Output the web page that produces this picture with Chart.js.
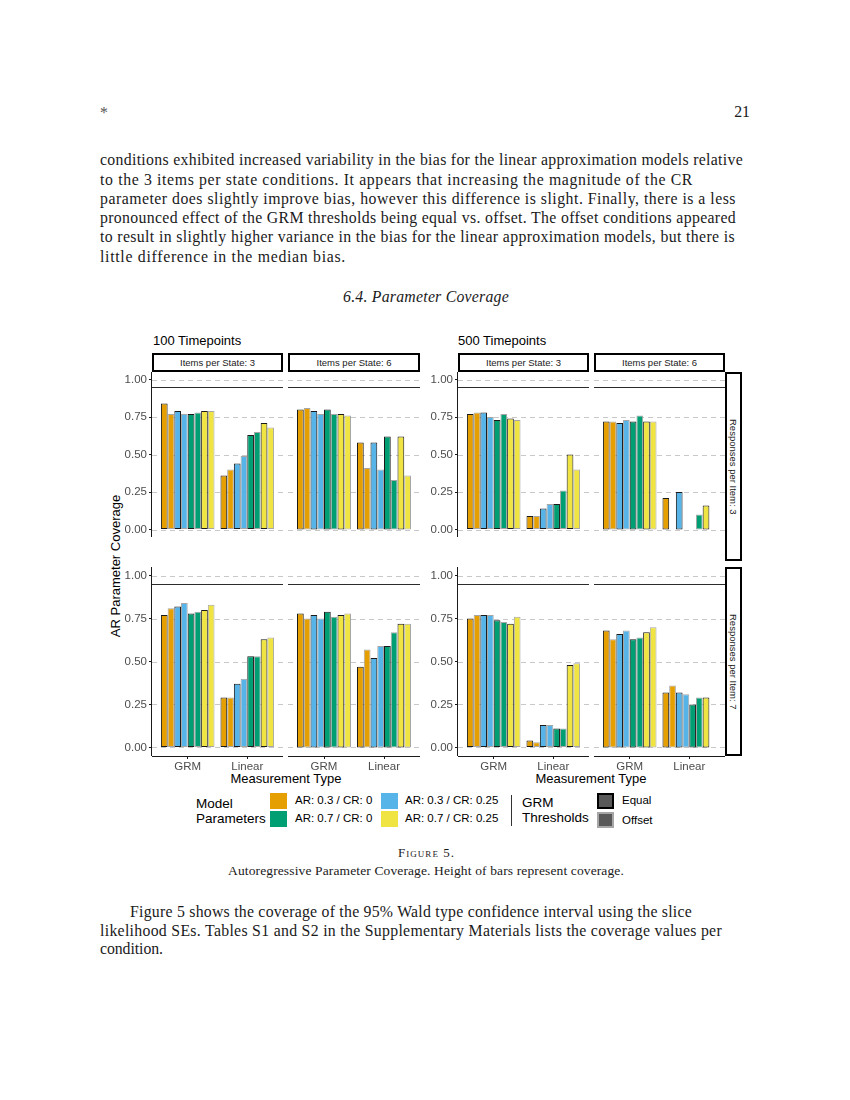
<!DOCTYPE html>
<html>
<head>
<meta charset="utf-8">
<script src="https://cdn.jsdelivr.net/npm/chart.js@4.4.1/dist/chart.umd.min.js"></script>
<style>
  body { margin: 0; background: #fff; }
  #page { position: relative; width: 850px; height: 1100px; overflow: hidden; background: #fff; color: #000; }
  .t { position: absolute; white-space: nowrap; line-height: 20px; }
  .serif { font-family: "Liberation Serif", "DejaVu Serif", serif; font-size: 15.8px; color: #1a1a1a; }
  .sans { font-family: "Liberation Sans", Arial, sans-serif; }
  .c { transform: translate(-50%, -50%); }
  canvas { position: absolute; }
  .strip { position: absolute; box-sizing: border-box; border: 2px solid #000; background: #fff;
           font: 9.5px "Liberation Sans", Arial, sans-serif; color: #1a1a1a;
           display: flex; align-items: center; justify-content: center; }
  .vstrip span { writing-mode: vertical-rl; }
  .key { position: absolute; width: 17px; height: 16px; box-sizing: border-box; }
</style>
</head>
<body>
<div id="page">
  <!-- page header -->
  <div class="t serif" style="left:100px;top:103px;color:#555;">*</div>
  <div class="t serif" style="right:100px;top:102px;">21</div>

  <!-- paragraph before the figure -->
  <div class="t serif fit" data-w="643" style="left:100px;top:150px;">conditions exhibited increased variability in the bias for the linear approximation models relative</div>
  <div class="t serif fit" data-w="593" style="left:100px;top:170px;">to the 3 items per state conditions. It appears that increasing the magnitude of the CR</div>
  <div class="t serif fit" data-w="636" style="left:100px;top:189px;">parameter does slightly improve bias, however this difference is slight. Finally, there is a less</div>
  <div class="t serif fit" data-w="636" style="left:100px;top:208px;">pronounced effect of the GRM thresholds being equal vs. offset. The offset conditions appeared</div>
  <div class="t serif fit" data-w="635" style="left:100px;top:227px;">to result in slightly higher variance in the bias for the linear approximation models, but there is</div>
  <div class="t serif fit" data-w="246" style="left:100px;top:247px;">little difference in the median bias.</div>

  <div class="t serif fit" data-w="166" style="left:343px;top:287px;font-style:italic;">6.4. Parameter Coverage</div>

  <!-- figure titles and strips -->
  <div class="t sans" style="left:153px;top:331px;font-size:13px;">100 Timepoints</div>
  <div class="t sans" style="left:458px;top:331px;font-size:13px;">500 Timepoints</div>

  <div class="strip" style="left:152px;top:353px;width:131px;height:19px;">Items per State: 3</div>
  <div class="strip" style="left:288px;top:353px;width:132px;height:19px;">Items per State: 6</div>
  <div class="strip" style="left:458px;top:353px;width:131px;height:19px;">Items per State: 3</div>
  <div class="strip" style="left:594px;top:353px;width:131px;height:19px;">Items per State: 6</div>

  <div class="strip vstrip" style="left:725px;top:372px;width:17px;height:189px;"><span>Responses per Item: 3</span></div>
  <div class="strip vstrip" style="left:725px;top:567px;width:17px;height:189px;"><span>Responses per Item: 7</span></div>

  <div class="t sans" style="left:116px;top:566px;font-size:13px;transform:translate(-50%,-50%) rotate(-90deg);">AR Parameter Coverage</div>
  <div class="t sans c" style="left:286px;top:779px;font-size:13px;">Measurement Type</div>
  <div class="t sans c" style="left:591px;top:779px;font-size:13px;">Measurement Type</div>

  <!-- legend -->
  <div class="t sans" style="left:196px;top:794px;font-size:13.5px;">Model</div>
  <div class="t sans" style="left:196px;top:809px;font-size:13.5px;">Parameters</div>
  <div class="key" style="left:270px;top:793px;background:#E69F00;"></div>
  <div class="key" style="left:270px;top:811px;background:#009E73;"></div>
  <div class="t sans" style="left:295px;top:790px;font-size:11.5px;">AR: 0.3 / CR: 0</div>
  <div class="t sans" style="left:295px;top:808px;font-size:11.5px;">AR: 0.7 / CR: 0</div>
  <div class="key" style="left:381px;top:793px;background:#56B4E9;"></div>
  <div class="key" style="left:381px;top:811px;background:#F0E442;"></div>
  <div class="t sans" style="left:405px;top:790px;font-size:11.5px;">AR: 0.3 / CR: 0.25</div>
  <div class="t sans" style="left:405px;top:808px;font-size:11.5px;">AR: 0.7 / CR: 0.25</div>
  <div style="position:absolute;left:511px;top:795px;width:1px;height:31px;background:#333;"></div>
  <div class="t sans" style="left:522px;top:793px;font-size:13.5px;">GRM</div>
  <div class="t sans" style="left:522px;top:808px;font-size:13.5px;">Thresholds</div>
  <div class="key" style="left:597px;top:793px;background:#595959;border:2px solid #000;"></div>
  <div class="key" style="left:597px;top:812px;background:#595959;border:2px solid #a6a6a6;"></div>
  <div class="t sans" style="left:622px;top:790px;font-size:11.5px;">Equal</div>
  <div class="t sans" style="left:622px;top:810px;font-size:11.5px;">Offset</div>

  <!-- caption -->
  <div class="t serif fit" data-w="57" style="left:398px;top:843px;font-size:13px;font-variant:small-caps;">Figure 5.</div>
  <div class="t serif fit" data-w="396" style="left:228px;top:861px;font-size:13.5px;">Autoregressive Parameter Coverage. Height of bars represent coverage.</div>

  <!-- paragraph after the figure -->
  <div class="t serif fit" data-w="562" style="left:130px;top:902px;">Figure 5 shows the coverage of the 95% Wald type confidence interval using the slice</div>
  <div class="t serif fit" data-w="622" style="left:100px;top:921px;">likelihood SEs. Tables S1 and S2 in the Supplementary Materials lists the coverage values per</div>
  <div class="t serif fit" data-w="63" style="left:100px;top:939px;">condition.</div>
</div>

<script>
// categories on the x axis of every panel
const categories = ['GRM', 'Linear'];
// model parameter conditions (fill colour) and GRM threshold conditions (outline)
const paramLabels = ['AR: 0.3 / CR: 0', 'AR: 0.3 / CR: 0.25', 'AR: 0.7 / CR: 0', 'AR: 0.7 / CR: 0.25'];
const paramColors = ['#E69F00', '#56B4E9', '#009E73', '#F0E442'];
const thresholds = ['Equal', 'Offset'];
const thresholdBorders = ['#1a1a1a', '#a6a6a6'];
const yTicks = [0, 0.25, 0.5, 0.75, 1];
const nominalCoverage = 0.95;

// coverage values: one row per category (GRM, Linear), 8 bars per row in order
// AR.3/CR0 Equal, Offset, AR.3/CR.25 Equal, Offset, AR.7/CR0 Equal, Offset, AR.7/CR.25 Equal, Offset
const tp100_items3_resp3 = [
  [0.84, 0.77, 0.79, 0.77, 0.77, 0.78, 0.79, 0.79],
  [0.36, 0.40, 0.44, 0.49, 0.63, 0.65, 0.71, 0.68]
];
const tp100_items6_resp3 = [
  [0.80, 0.81, 0.79, 0.77, 0.80, 0.77, 0.77, 0.76],
  [0.58, 0.41, 0.58, 0.40, 0.62, 0.33, 0.62, 0.36]
];
const tp500_items3_resp3 = [
  [0.77, 0.78, 0.78, 0.75, 0.73, 0.77, 0.74, 0.73],
  [0.09, 0.09, 0.14, 0.17, 0.17, 0.26, 0.50, 0.40]
];
const tp500_items6_resp3 = [
  [0.72, 0.72, 0.71, 0.73, 0.72, 0.76, 0.72, 0.72],
  [0.21, null, 0.25, null, null, 0.10, 0.16, null]
];
const tp100_items3_resp7 = [
  [0.77, 0.81, 0.82, 0.84, 0.78, 0.79, 0.80, 0.83],
  [0.29, 0.29, 0.37, 0.40, 0.53, 0.53, 0.63, 0.64]
];
const tp100_items6_resp7 = [
  [0.78, 0.75, 0.77, 0.75, 0.79, 0.76, 0.77, 0.78],
  [0.47, 0.57, 0.52, 0.59, 0.59, 0.67, 0.72, 0.72]
];
const tp500_items3_resp7 = [
  [0.75, 0.77, 0.77, 0.77, 0.74, 0.73, 0.72, 0.76],
  [0.04, 0.03, 0.13, 0.13, 0.11, 0.11, 0.48, 0.49]
];
const tp500_items6_resp7 = [
  [0.68, 0.63, 0.66, 0.68, 0.63, 0.64, 0.67, 0.70],
  [0.32, 0.36, 0.32, 0.31, 0.25, 0.29, 0.29, null]
];

// panel placement on the page
const colLeft = [152, 288, 458, 594];
const colWidth = [131, 132, 131, 131];
const rowTop = [372, 567];
const rowHeight = 189;

const panels = [
  { values: tp100_items3_resp3, col: 0, row: 0 },
  { values: tp100_items6_resp3, col: 1, row: 0 },
  { values: tp500_items3_resp3, col: 2, row: 0 },
  { values: tp500_items6_resp3, col: 3, row: 0 },
  { values: tp100_items3_resp7, col: 0, row: 1 },
  { values: tp100_items6_resp7, col: 1, row: 1 },
  { values: tp500_items3_resp7, col: 2, row: 1 },
  { values: tp500_items6_resp7, col: 3, row: 1 }
];

// stretch text lines to the widths seen on the page
document.querySelectorAll('.fit').forEach(el => {
  const target = parseFloat(el.dataset.w);
  const nat = el.getBoundingClientRect().width;
  el.style.letterSpacing = ((target - nat) / el.textContent.length) + 'px';
});

const sansFont = '"Liberation Sans", Arial, sans-serif';

// dashed grid, nominal line and axis lines
const panelDecor = {
  id: 'panelDecor',
  beforeDatasetsDraw(chart) {
    const { ctx, chartArea: a, scales: { y } } = chart;
    ctx.save();
    ctx.strokeStyle = '#c8c8c8';
    ctx.lineWidth = 1;
    ctx.setLineDash([5, 4]);
    yTicks.forEach(v => {
      const py = Math.round(y.getPixelForValue(v)) + 0.5;
      ctx.beginPath();
      ctx.moveTo(a.left, py);
      ctx.lineTo(a.right, py);
      ctx.stroke();
    });
    ctx.restore();
  },
  afterDatasetsDraw(chart, args, opts) {
    const { ctx, chartArea: a, scales: { y } } = chart;
    ctx.save();
    ctx.strokeStyle = '#2b2b2b';
    ctx.lineWidth = 1;
    const ny = Math.round(y.getPixelForValue(nominalCoverage)) + 0.5;
    ctx.beginPath();
    ctx.moveTo(a.left, ny);
    ctx.lineTo(a.right, ny);
    ctx.stroke();
    ctx.strokeStyle = '#1a1a1a';
    if (opts.leftAxis) {
      ctx.beginPath();
      ctx.moveTo(a.left - 0.5, a.top);
      ctx.lineTo(a.left - 0.5, a.bottom);
      ctx.stroke();
    }
    if (opts.bottomAxis) {
      ctx.beginPath();
      ctx.moveTo(a.left, a.bottom + 0.5);
      ctx.lineTo(a.right, a.bottom + 0.5);
      ctx.stroke();
    }
    ctx.restore();
  }
};

const page = document.getElementById('page');

panels.forEach(p => {
  const leftAxis = p.col % 2 === 0;
  const bottomAxis = p.row === 1;
  const padL = leftAxis ? 40 : 0;
  const padTop = 10;
  const padBottom = bottomAxis ? 24 : 10;
  const w = colWidth[p.col] + padL;
  const h = rowHeight + padTop + padBottom;

  const cv = document.createElement('canvas');
  cv.width = w;
  cv.height = h;
  cv.style.left = (colLeft[p.col] - padL) + 'px';
  cv.style.top = (rowTop[p.row] - padTop) + 'px';
  cv.style.width = w + 'px';
  cv.style.height = h + 'px';
  page.appendChild(cv);

  const datasets = [];
  paramLabels.forEach((label, pi) => {
    thresholds.forEach((th, ti) => {
      const k = pi * 2 + ti;
      datasets.push({
        label: label + ' / ' + th,
        data: categories.map((c, ci) => ({ x: ci, y: p.values[ci][k] })),
        backgroundColor: paramColors[pi],
        borderColor: thresholdBorders[ti],
        borderWidth: 1,
        borderSkipped: false,
        categoryPercentage: 0.9,
        barPercentage: 1
      });
    });
  });

  new Chart(cv, {
    type: 'bar',
    data: { datasets: datasets },
    options: {
      responsive: false,
      animation: false,
      devicePixelRatio: 1,
      events: [],
      layout: { padding: { top: padTop, left: 0, right: 0, bottom: bottomAxis ? 0 : padBottom } },
      plugins: {
        legend: { display: false },
        tooltip: { enabled: false },
        panelDecor: { leftAxis: leftAxis, bottomAxis: bottomAxis }
      },
      scales: {
        x: {
          type: 'linear',
          display: bottomAxis,
          offset: false,
          min: -0.6,
          max: 1.6,
          afterBuildTicks: s => { s.ticks = categories.map((c, i) => ({ value: i })); },
          afterFit: s => { s.height = 24; },
          grid: { display: true, offset: false, drawOnChartArea: false, drawTicks: true, tickLength: 3, tickColor: '#1a1a1a' },
          border: { display: false },
          ticks: {
            padding: 1,
            color: '#4d4d4d',
            font: { family: sansFont, size: 11.5 },
            callback: v => categories[v] || ''
          }
        },
        y: {
          type: 'linear',
          display: leftAxis,
          min: -0.05,
          max: 1.05,
          afterBuildTicks: s => { s.ticks = yTicks.map(v => ({ value: v })); },
          afterFit: s => { s.width = padL; },
          grid: { display: true, drawOnChartArea: false, drawTicks: true, tickLength: 3, tickColor: '#1a1a1a' },
          border: { display: false },
          ticks: {
            padding: 2,
            color: '#4d4d4d',
            font: { family: sansFont, size: 11.5 },
            callback: v => v.toFixed(2)
          }
        }
      }
    },
    plugins: [panelDecor]
  });
});
</script>
</body>
</html>
